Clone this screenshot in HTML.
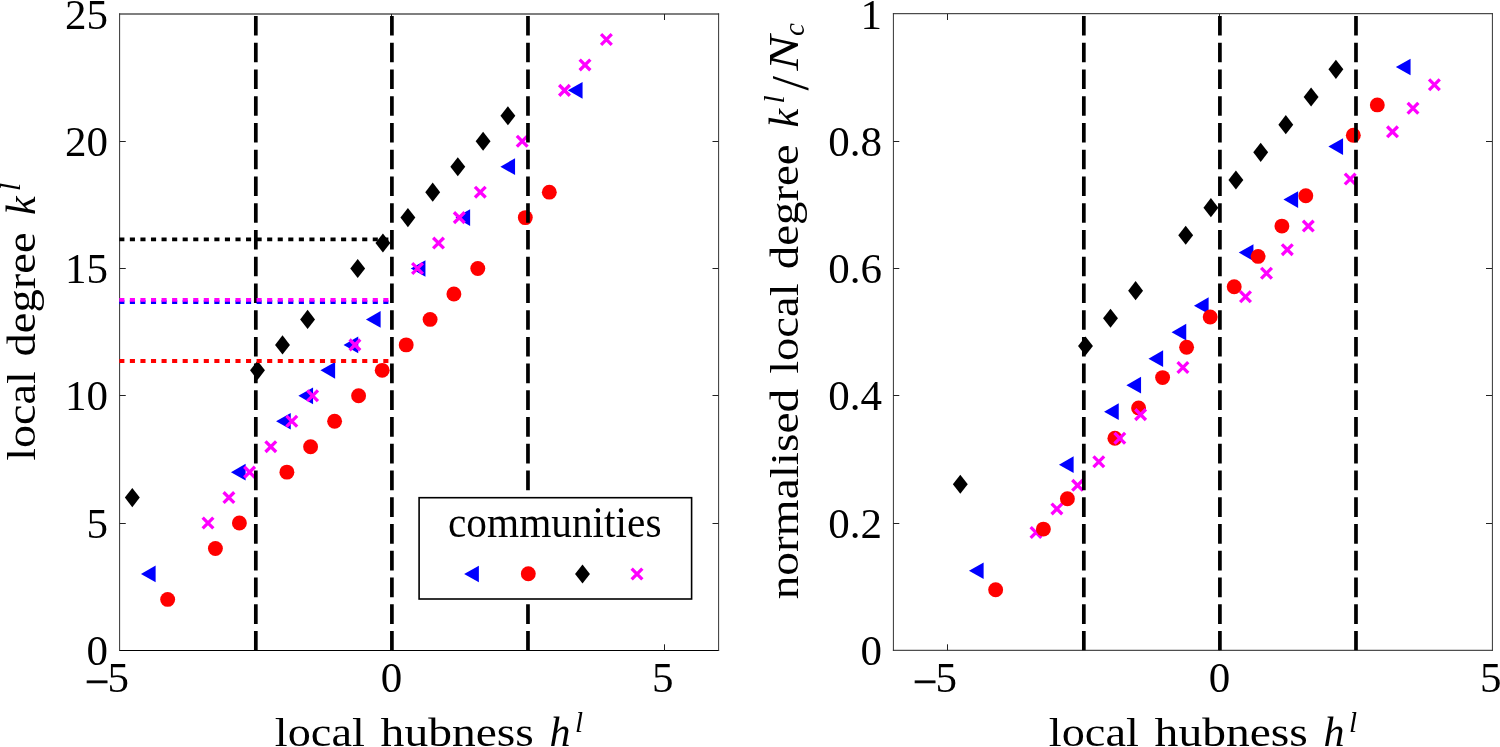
<!DOCTYPE html><html><head><meta charset="utf-8"><style>html,body{margin:0;padding:0;background:#fff;overflow:hidden}svg{display:block}text{font-family:"Liberation Serif","Times New Roman",serif;fill:#000}</style></head><body>
<svg width="1500" height="747" viewBox="0 0 1500 747">
<rect width="1500" height="747" fill="#fff"/>
<line x1="119.1" y1="14" x2="719.1" y2="14" stroke="#000" stroke-width="1.15"/>
<line x1="119.1" y1="650.5" x2="719.1" y2="650.5" stroke="#000" stroke-width="1"/>
<line x1="119.62" y1="13.4" x2="119.62" y2="651" stroke="#333" stroke-width="1"/>
<line x1="718.62" y1="13.4" x2="718.62" y2="651" stroke="#333" stroke-width="1"/>
<path d="M119.75 523.5h6M718.5 523.5h-6M119.75 395.5h6M718.5 395.5h-6M119.75 268.5h6M718.5 268.5h-6M119.75 141.5h6M718.5 141.5h-6M391.5 650.3v-6M391.5 14v6M664.5 650.3v-6M664.5 14v6" stroke="#222" stroke-width="1" fill="none"/>
<path d="M140.95 573.94L155.65 565.59L155.65 582.29Z" fill="#00f"/>
<circle cx="167.65" cy="599.4" r="7.45" fill="#f00"/>
<path d="M124.85 497.59L132.3 488.04L139.75 497.59L132.3 507.14Z" fill="#000"/>
<path d="M202.65 517.69L213.35 528.39M202.65 528.39L213.35 517.69" stroke="#f0f" stroke-width="3.3" fill="none"/>
<path d="M230.95 472.14L245.65 463.79L245.65 480.49Z" fill="#00f"/>
<circle cx="215.4" cy="548.49" r="7.45" fill="#f00"/>
<path d="M250.05 370.33L257.5 360.78L264.95 370.33L257.5 379.88Z" fill="#000"/>
<path d="M223.55 492.24L234.25 502.94M223.55 502.94L234.25 492.24" stroke="#f0f" stroke-width="3.3" fill="none"/>
<path d="M276.05 421.23L290.75 412.88L290.75 429.58Z" fill="#00f"/>
<circle cx="239.4" cy="523.04" r="7.45" fill="#f00"/>
<path d="M275.05 344.88L282.5 335.33L289.95 344.88L282.5 354.43Z" fill="#000"/>
<path d="M244.25 466.79L254.95 477.49M244.25 477.49L254.95 466.79" stroke="#f0f" stroke-width="3.3" fill="none"/>
<path d="M298.35 395.78L313.05 387.43L313.05 404.13Z" fill="#00f"/>
<circle cx="286.9" cy="472.14" r="7.45" fill="#f00"/>
<path d="M300.15 319.42L307.6 309.87L315.05 319.42L307.6 328.97Z" fill="#000"/>
<path d="M265.45 441.33L276.15 452.03M265.45 452.03L276.15 441.33" stroke="#f0f" stroke-width="3.3" fill="none"/>
<path d="M320.45 370.33L335.15 361.98L335.15 378.68Z" fill="#00f"/>
<circle cx="310.6" cy="446.68" r="7.45" fill="#f00"/>
<path d="M350.25 268.52L357.7 258.97L365.15 268.52L357.7 278.07Z" fill="#000"/>
<path d="M286.45 415.88L297.15 426.58M286.45 426.58L297.15 415.88" stroke="#f0f" stroke-width="3.3" fill="none"/>
<path d="M343.55 344.88L358.25 336.53L358.25 353.23Z" fill="#00f"/>
<circle cx="334.6" cy="421.23" r="7.45" fill="#f00"/>
<path d="M375.45 243.07L382.9 233.52L390.35 243.07L382.9 252.62Z" fill="#000"/>
<path d="M307.25 390.43L317.95 401.13M307.25 401.13L317.95 390.43" stroke="#f0f" stroke-width="3.3" fill="none"/>
<path d="M365.95 319.42L380.65 311.07L380.65 327.77Z" fill="#00f"/>
<circle cx="358.6" cy="395.78" r="7.45" fill="#f00"/>
<path d="M400.45 217.62L407.9 208.07L415.35 217.62L407.9 227.17Z" fill="#000"/>
<path d="M349.55 339.53L360.25 350.23M349.55 350.23L360.25 339.53" stroke="#f0f" stroke-width="3.3" fill="none"/>
<path d="M410.75 268.52L425.45 260.17L425.45 276.87Z" fill="#00f"/>
<circle cx="382.2" cy="370.33" r="7.45" fill="#f00"/>
<path d="M425.25 192.16L432.7 182.61L440.15 192.16L432.7 201.71Z" fill="#000"/>
<path d="M412.15 263.17L422.85 273.87M412.15 273.87L422.85 263.17" stroke="#f0f" stroke-width="3.3" fill="none"/>
<path d="M455.45 217.62L470.15 209.27L470.15 225.97Z" fill="#00f"/>
<circle cx="406.2" cy="344.88" r="7.45" fill="#f00"/>
<path d="M450.35 166.71L457.8 157.16L465.25 166.71L457.8 176.26Z" fill="#000"/>
<path d="M433.15 237.72L443.85 248.42M433.15 248.42L443.85 237.72" stroke="#f0f" stroke-width="3.3" fill="none"/>
<path d="M500.35 166.71L515.05 158.36L515.05 175.06Z" fill="#00f"/>
<circle cx="430.1" cy="319.42" r="7.45" fill="#f00"/>
<path d="M475.65 141.26L483.1 131.71L490.55 141.26L483.1 150.81Z" fill="#000"/>
<path d="M453.95 212.27L464.65 222.97M453.95 222.97L464.65 212.27" stroke="#f0f" stroke-width="3.3" fill="none"/>
<path d="M567.85 90.36L582.55 82.01L582.55 98.71Z" fill="#00f"/>
<circle cx="453.9" cy="293.97" r="7.45" fill="#f00"/>
<path d="M500.45 115.81L507.9 106.26L515.35 115.81L507.9 125.36Z" fill="#000"/>
<path d="M474.95 186.81L485.65 197.51M474.95 197.51L485.65 186.81" stroke="#f0f" stroke-width="3.3" fill="none"/>
<circle cx="477.8" cy="268.52" r="7.45" fill="#f00"/>
<path d="M516.85 135.91L527.55 146.61M516.85 146.61L527.55 135.91" stroke="#f0f" stroke-width="3.3" fill="none"/>
<circle cx="525.3" cy="217.62" r="7.45" fill="#f00"/>
<path d="M559.15 85.01L569.85 95.71M559.15 95.71L569.85 85.01" stroke="#f0f" stroke-width="3.3" fill="none"/>
<circle cx="549.3" cy="192.16" r="7.45" fill="#f00"/>
<path d="M579.65 59.55L590.35 70.25M579.65 70.25L590.35 59.55" stroke="#f0f" stroke-width="3.3" fill="none"/>
<path d="M601.05 34.1L611.75 44.8M601.05 44.8L611.75 34.1" stroke="#f0f" stroke-width="3.3" fill="none"/>
<line x1="255.82" y1="16" x2="255.82" y2="650.3" stroke="#000" stroke-width="3.7" stroke-dasharray="19.6 7.14"/>
<line x1="391.9" y1="16" x2="391.9" y2="650.3" stroke="#000" stroke-width="3.7" stroke-dasharray="19.6 7.14"/>
<line x1="527.97" y1="16" x2="527.97" y2="650.3" stroke="#000" stroke-width="3.7" stroke-dasharray="19.6 7.14"/>
<line x1="119.3" y1="239.3" x2="389" y2="239.3" stroke="#000" stroke-width="3.8" stroke-dasharray="5.1 5.46"/>
<line x1="119.3" y1="302.1" x2="389" y2="302.1" stroke="#00f" stroke-width="3.8" stroke-dasharray="5.1 5.46"/>
<line x1="119.3" y1="299.8" x2="389" y2="299.8" stroke="#f0f" stroke-width="3.8" stroke-dasharray="5.1 5.46"/>
<line x1="119.3" y1="361" x2="389" y2="361" stroke="#f00" stroke-width="3.8" stroke-dasharray="5.1 5.46"/>
<line x1="892.9" y1="13.7" x2="1492.9" y2="13.7" stroke="#222" stroke-width="1"/>
<line x1="892.9" y1="650.3" x2="1492.9" y2="650.3" stroke="#222" stroke-width="1"/>
<line x1="893.4" y1="13.2" x2="893.4" y2="650.8" stroke="#333" stroke-width="1"/>
<line x1="1492.4" y1="13.2" x2="1492.4" y2="650.8" stroke="#333" stroke-width="1"/>
<path d="M893.3 523.5h6M1492 523.5h-6M893.3 395.5h6M1492 395.5h-6M893.3 268.5h6M1492 268.5h-6M893.3 141.5h6M1492 141.5h-6M947.5 650.3v-6M947.5 14v6M1219.5 650.3v-6M1219.5 14v6" stroke="#222" stroke-width="1" fill="none"/>
<path d="M968.95 570.76L983.65 562.41L983.65 579.11Z" fill="#00f"/>
<circle cx="995.65" cy="589.7" r="7.45" fill="#f00"/>
<path d="M952.85 484.31L960.3 474.76L967.75 484.31L960.3 493.86Z" fill="#000"/>
<path d="M1030.65 527.12L1041.35 537.82M1030.65 537.82L1041.35 527.12" stroke="#f0f" stroke-width="3.3" fill="none"/>
<path d="M1058.95 464.71L1073.65 456.36L1073.65 473.06Z" fill="#00f"/>
<circle cx="1043.4" cy="529.1" r="7.45" fill="#f00"/>
<path d="M1078.05 345.98L1085.5 336.43L1092.95 345.98L1085.5 355.53Z" fill="#000"/>
<path d="M1051.55 503.55L1062.25 514.25M1051.55 514.25L1062.25 503.55" stroke="#f0f" stroke-width="3.3" fill="none"/>
<path d="M1104.05 411.69L1118.75 403.34L1118.75 420.04Z" fill="#00f"/>
<circle cx="1067.4" cy="498.8" r="7.45" fill="#f00"/>
<path d="M1103.05 318.32L1110.5 308.77L1117.95 318.32L1110.5 327.87Z" fill="#000"/>
<path d="M1072.25 479.98L1082.95 490.68M1072.25 490.68L1082.95 479.98" stroke="#f0f" stroke-width="3.3" fill="none"/>
<path d="M1126.35 385.17L1141.05 376.82L1141.05 393.52Z" fill="#00f"/>
<circle cx="1114.9" cy="438.2" r="7.45" fill="#f00"/>
<path d="M1128.15 290.65L1135.6 281.1L1143.05 290.65L1135.6 300.2Z" fill="#000"/>
<path d="M1093.45 456.42L1104.15 467.12M1093.45 467.12L1104.15 456.42" stroke="#f0f" stroke-width="3.3" fill="none"/>
<path d="M1148.45 358.66L1163.15 350.31L1163.15 367.01Z" fill="#00f"/>
<circle cx="1138.6" cy="407.9" r="7.45" fill="#f00"/>
<path d="M1178.25 235.32L1185.7 225.77L1193.15 235.32L1185.7 244.87Z" fill="#000"/>
<path d="M1114.45 432.85L1125.15 443.55M1114.45 443.55L1125.15 432.85" stroke="#f0f" stroke-width="3.3" fill="none"/>
<path d="M1171.55 332.15L1186.25 323.8L1186.25 340.5Z" fill="#00f"/>
<circle cx="1162.6" cy="377.6" r="7.45" fill="#f00"/>
<path d="M1203.45 207.66L1210.9 198.11L1218.35 207.66L1210.9 217.21Z" fill="#000"/>
<path d="M1135.25 409.28L1145.95 419.98M1135.25 419.98L1145.95 409.28" stroke="#f0f" stroke-width="3.3" fill="none"/>
<path d="M1193.95 305.64L1208.65 297.29L1208.65 313.99Z" fill="#00f"/>
<circle cx="1186.6" cy="347.3" r="7.45" fill="#f00"/>
<path d="M1228.45 179.99L1235.9 170.44L1243.35 179.99L1235.9 189.54Z" fill="#000"/>
<path d="M1177.55 362.15L1188.25 372.85M1177.55 372.85L1188.25 362.15" stroke="#f0f" stroke-width="3.3" fill="none"/>
<path d="M1238.75 252.61L1253.45 244.26L1253.45 260.96Z" fill="#00f"/>
<circle cx="1210.2" cy="317" r="7.45" fill="#f00"/>
<path d="M1253.25 152.33L1260.7 142.78L1268.15 152.33L1260.7 161.88Z" fill="#000"/>
<path d="M1240.15 291.45L1250.85 302.15M1240.15 302.15L1250.85 291.45" stroke="#f0f" stroke-width="3.3" fill="none"/>
<path d="M1283.45 199.59L1298.15 191.24L1298.15 207.94Z" fill="#00f"/>
<circle cx="1234.2" cy="286.7" r="7.45" fill="#f00"/>
<path d="M1278.35 124.66L1285.8 115.11L1293.25 124.66L1285.8 134.21Z" fill="#000"/>
<path d="M1261.15 267.88L1271.85 278.58M1261.15 278.58L1271.85 267.88" stroke="#f0f" stroke-width="3.3" fill="none"/>
<path d="M1328.35 146.56L1343.05 138.21L1343.05 154.91Z" fill="#00f"/>
<circle cx="1258.1" cy="256.4" r="7.45" fill="#f00"/>
<path d="M1303.65 97L1311.1 87.45L1318.55 97L1311.1 106.55Z" fill="#000"/>
<path d="M1281.95 244.32L1292.65 255.02M1281.95 255.02L1292.65 244.32" stroke="#f0f" stroke-width="3.3" fill="none"/>
<path d="M1395.85 67.02L1410.55 58.67L1410.55 75.37Z" fill="#00f"/>
<circle cx="1281.9" cy="226.1" r="7.45" fill="#f00"/>
<path d="M1328.45 69.33L1335.9 59.78L1343.35 69.33L1335.9 78.88Z" fill="#000"/>
<path d="M1302.95 220.75L1313.65 231.45M1302.95 231.45L1313.65 220.75" stroke="#f0f" stroke-width="3.3" fill="none"/>
<circle cx="1305.8" cy="195.8" r="7.45" fill="#f00"/>
<path d="M1344.85 173.62L1355.55 184.32M1344.85 184.32L1355.55 173.62" stroke="#f0f" stroke-width="3.3" fill="none"/>
<circle cx="1353.3" cy="135.2" r="7.45" fill="#f00"/>
<path d="M1387.15 126.48L1397.85 137.18M1387.15 137.18L1397.85 126.48" stroke="#f0f" stroke-width="3.3" fill="none"/>
<circle cx="1377.3" cy="104.9" r="7.45" fill="#f00"/>
<path d="M1407.65 102.92L1418.35 113.62M1407.65 113.62L1418.35 102.92" stroke="#f0f" stroke-width="3.3" fill="none"/>
<path d="M1429.05 79.35L1439.75 90.05M1429.05 90.05L1439.75 79.35" stroke="#f0f" stroke-width="3.3" fill="none"/>
<line x1="1083.83" y1="16" x2="1083.83" y2="650.3" stroke="#000" stroke-width="3.7" stroke-dasharray="19.6 7.14"/>
<line x1="1219.9" y1="16" x2="1219.9" y2="650.3" stroke="#000" stroke-width="3.7" stroke-dasharray="19.6 7.14"/>
<line x1="1355.98" y1="16" x2="1355.98" y2="650.3" stroke="#000" stroke-width="3.7" stroke-dasharray="19.6 7.14"/>
<rect x="419.1" y="497.7" width="272.5" height="101.3" fill="#fff" stroke="#000" stroke-width="1.6"/>
<text x="448" y="537" font-size="45" textLength="213.5" lengthAdjust="spacingAndGlyphs">communities</text>
<path d="M464.15 574L478.85 565.65L478.85 582.35Z" fill="#00f"/>
<circle cx="528.3" cy="573.7" r="7.45" fill="#f00"/>
<path d="M575.05 574L582.5 564.45L589.95 574L582.5 583.55Z" fill="#000"/>
<path d="M631.65 568.65L642.35 579.35M631.65 579.35L642.35 568.65" stroke="#f0f" stroke-width="3.3" fill="none"/>
<text x="108" y="664.8" font-size="43" text-anchor="end">0</text>
<text x="108" y="537.54" font-size="43" text-anchor="end">5</text>
<text x="108" y="410.28" font-size="43" text-anchor="end">10</text>
<text x="108" y="283.02" font-size="43" text-anchor="end">15</text>
<text x="108" y="155.76" font-size="43" text-anchor="end">20</text>
<text x="108" y="28.5" font-size="43" text-anchor="end">25</text>
<text x="882" y="664.8" font-size="43" text-anchor="end">0</text>
<text x="882" y="537.54" font-size="43" text-anchor="end">0.2</text>
<text x="882" y="410.28" font-size="43" text-anchor="end">0.4</text>
<text x="882" y="283.02" font-size="43" text-anchor="end">0.6</text>
<text x="882" y="155.76" font-size="43" text-anchor="end">0.8</text>
<text x="882" y="28.5" font-size="43" text-anchor="end">1</text>
<text font-size="43"><tspan x="109.15" y="695.8" text-anchor="end" stroke="#000" stroke-width="0.8">−</tspan><tspan x="118.35" y="692" text-anchor="middle">5</tspan></text>
<text x="391.6" y="692" font-size="43" text-anchor="middle">0</text>
<text x="662.65" y="692" font-size="43" text-anchor="middle">5</text>
<text font-size="43"><tspan x="937.15" y="695.8" text-anchor="end" stroke="#000" stroke-width="0.8">−</tspan><tspan x="946.35" y="692" text-anchor="middle">5</tspan></text>
<text x="1219.6" y="692" font-size="43" text-anchor="middle">0</text>
<text x="1490.65" y="692" font-size="43" text-anchor="middle">5</text>
<text x="274.86" y="745.5" font-size="40.5" textLength="89.97" lengthAdjust="spacingAndGlyphs">local</text>
<text x="380.63" y="745.5" font-size="40.5" textLength="153.13" lengthAdjust="spacingAndGlyphs">hubness</text>
<text x="549.5" y="745.5" font-size="42" font-style="italic">h</text>
<text x="575" y="731.5" font-size="29" font-style="italic">l</text>
<text x="1048.86" y="745.5" font-size="40.5" textLength="89.97" lengthAdjust="spacingAndGlyphs">local</text>
<text x="1154.63" y="745.5" font-size="40.5" textLength="153.13" lengthAdjust="spacingAndGlyphs">hubness</text>
<text x="1323.5" y="745.5" font-size="42" font-style="italic">h</text>
<text x="1349" y="731.5" font-size="29" font-style="italic">l</text>
<g transform="translate(34.8 460) rotate(-90)">
<text x="-0.84" y="0" font-size="40.5" textLength="89.56" lengthAdjust="spacingAndGlyphs">local</text>
<text x="103.4" y="0" font-size="40.5" textLength="124.26" lengthAdjust="spacingAndGlyphs">degree</text>
<text x="245" y="0" font-size="42" font-style="italic">k</text>
<text x="269" y="-14.5" font-size="29" font-style="italic">l</text>
</g>
<g transform="translate(798 598) rotate(-90)">
<text x="-1.37" y="0" font-size="40.5" textLength="210.5" lengthAdjust="spacingAndGlyphs">normalised</text>
<text x="224.15" y="0" font-size="40.5" textLength="90.48" lengthAdjust="spacingAndGlyphs">local</text>
<text x="328.89" y="0" font-size="40.5" textLength="124.67" lengthAdjust="spacingAndGlyphs">degree</text>
<text x="470.6" y="0" font-size="42" font-style="italic">k</text>
<text x="494.4" y="-14.5" font-size="29" font-style="italic">l</text>
<text x="507.5" y="9.5" font-size="52">/</text>
<text x="527.4" y="0" font-size="42" font-style="italic" textLength="35" lengthAdjust="spacingAndGlyphs">N</text>
<text x="562" y="6" font-size="29" font-style="italic">c</text>
</g>
</svg></body></html>
